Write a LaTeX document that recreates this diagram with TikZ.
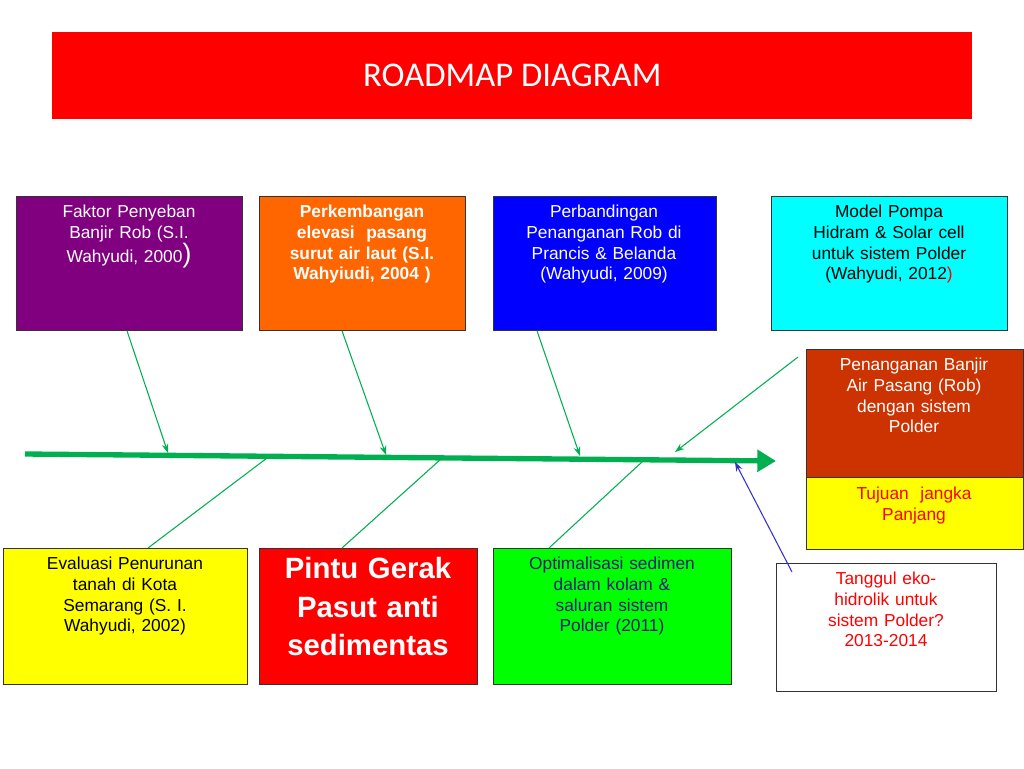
\documentclass[tikz,border=0pt]{standalone}
\usepackage{fontspec}
\setmainfont{Liberation Sans}
\newfontfamily\titlefont{Carlito}
\usetikzlibrary{arrows.meta}
\definecolor{purp}{HTML}{800080}
\definecolor{orng}{HTML}{FF6600}
\definecolor{blu}{HTML}{0000FF}
\definecolor{cyn}{HTML}{00FFFF}
\definecolor{rust}{HTML}{CC3300}
\definecolor{yel}{HTML}{FFFF00}
\definecolor{grn}{HTML}{00FF00}
\definecolor{redd}{HTML}{FF0000}
\definecolor{lgrn}{HTML}{00B050}
\definecolor{navy}{HTML}{1F1F7A}
\begin{document}
\begin{tikzpicture}[x=0.75pt,y=-0.75pt,
  box/.style={draw=black!80,line width=0.6pt,anchor=north west,inner sep=0pt},
  txt/.style={anchor=north,align=center,font=\fontsize{13}{15.5}\selectfont,inner sep=0pt},
  conn/.style={draw=lgrn,line width=0.8pt,-{Stealth[length=7pt,width=5pt]}},
  connp/.style={draw=lgrn,line width=0.8pt}]
\useasboundingbox (0,0) rectangle (1024,768);
\fill[white] (0,0) rectangle (1024,768);
% title
\node[anchor=north west,fill=redd,minimum width=920*0.75pt,minimum height=87*0.75pt,inner sep=0pt] (title) at (52,32) {};
\node[text=white,font=\titlefont\fontsize{26}{30}\selectfont] (tt) at (title.center) {ROADMAP DIAGRAM};
% top boxes
\node[box,fill=purp,minimum width=226*0.75pt,minimum height=134*0.75pt] (b1) at (16,196) {};
\node[txt,text=white,text width=160pt] (t1) at (129,205) {Faktor Penyeban\\Banjir Rob (S.I.\\Wahyudi, 2000{\fontsize{20}{15.5}\selectfont)}};
\node[box,fill=orng,minimum width=206*0.75pt,minimum height=134*0.75pt] (b2) at (259,196) {};
\node[txt,text=white,text width=150pt,font=\bfseries\fontsize{13}{15.5}\selectfont] (t2) at (362,205) {Perkembangan\\elevasi\ \ pasang\\surut air laut (S.I.\\Wahyiudi, 2004 )};
\node[box,fill=blu,minimum width=223*0.75pt,minimum height=134*0.75pt] (b3) at (493,196) {};
\node[txt,text=white,text width=160pt] (t3) at (604,205) {Perbandingan\\Penanganan Rob di\\Prancis \& Belanda\\(Wahyudi, 2009)};
\node[box,fill=cyn,minimum width=236*0.75pt,minimum height=134*0.75pt] (b4) at (771,196) {};
\node[txt,text=black,text width=170pt] (t4) at (889,205) {Model Pompa\\Hidram \& Solar cell\\untuk sistem Polder\\(Wahyudi, 2012{\color{redd})}};
% right boxes
\node[box,fill=rust,minimum width=217*0.75pt,minimum height=128*0.75pt] (b9) at (806,349) {};
\node[txt,text=white,text width=160pt] (t9) at (914,358) {Penanganan Banjir\\Air Pasang (Rob)\\dengan sistem\\Polder};
\node[box,fill=yel,minimum width=217*0.75pt,minimum height=72*0.75pt] (b10) at (806,477) {};
\node[txt,text=redd,text width=160pt] (t10) at (914,487) {Tujuan\ \ jangka\\Panjang};
% bottom boxes
\node[box,fill=yel,minimum width=244*0.75pt,minimum height=136*0.75pt] (b5) at (3,548) {};
\node[txt,text=black,text width=170pt] (t5) at (125,557) {Evaluasi Penurunan\\tanah di Kota\\Semarang (S. I.\\Wahyudi, 2002)};
\node[box,fill=redd,minimum width=218*0.75pt,minimum height=136*0.75pt] (b6) at (259,548) {};
\node[txt,text=white,text width=160pt,font=\bfseries\fontsize{22}{29}\selectfont] (t6) at (368,557) {Pintu Gerak\\Pasut anti\\sedimentas};
\node[box,fill=grn,minimum width=238*0.75pt,minimum height=136*0.75pt] (b7) at (493,548) {};
\node[txt,text=navy,text width=175pt] (t7) at (612,557) {Optimalisasi sedimen\\dalam kolam \&\\saluran sistem\\Polder (2011)};
\node[box,fill=white,minimum width=220*0.75pt,minimum height=128*0.75pt] (b8) at (776,563) {};
\node[txt,text=redd,text width=160pt] (t8) at (886,572) {Tanggul eko-\\hidrolik untuk\\sistem Polder?\\2013-2014};
% main arrow
\coordinate (ms) at (25,454);
\coordinate (me) at (776,461);
\draw[draw=lgrn,line width=4pt,-{Triangle[length=14pt,width=16pt]}] (ms) -- (me);
\coordinate (a1) at (168,453);
\coordinate (a2) at (386,455);
\coordinate (a3) at (580,456);
\coordinate (a4) at (675,452);
\coordinate (a5) at (267,458);
\coordinate (a6) at (441,459);
\coordinate (a7) at (643,461);
\coordinate (a8) at (735,462);
\draw[conn] (b1.south west) ++(111,0) -- (a1);
\draw[conn] (b2.south west) ++(83,0) -- (a2);
\draw[conn] (b3.south west) ++(44,0) -- (a3);
\draw[conn] (b9.north west) ++(-8,8) -- (a4);
\draw[connp] (b5.north west) ++(145,0) -- (a5);
\draw[connp] (b6.north west) ++(83,0) -- (a6);
\draw[connp] (b7.north west) ++(56,0) -- (a7);
\draw[draw=blue!60!gray,line width=0.8pt,-{Stealth[length=7pt,width=5pt]}] (b8.north west) ++(16,9) -- (a8);
\end{tikzpicture}
\end{document}
